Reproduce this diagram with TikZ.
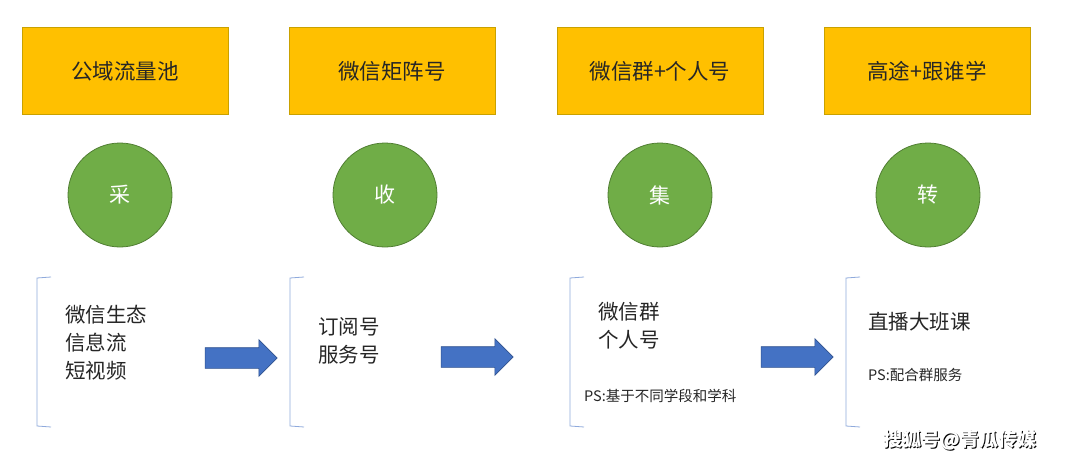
\documentclass[tikz,border=0pt]{standalone}
\usepackage{fontspec}
\newfontfamily\cjk{Noto Sans CJK SC}
\usetikzlibrary{shapes.arrows}
\definecolor{boxy}{HTML}{FFC000}
\definecolor{boxb}{HTML}{C9A100}
\definecolor{cg}{HTML}{70AD47}
\definecolor{cgb}{HTML}{507E32}
\definecolor{ab}{HTML}{4472C4}
\definecolor{abb}{HTML}{2F528F}
\definecolor{brk}{HTML}{8FAADC}
\tikzset{
 topbox/.style={draw=boxb,fill=boxy,minimum width=206pt,minimum height=87pt,font=\cjk\fontsize{21.5}{24}\selectfont,text=black!85,line width=0.8pt},
 circ/.style={circle,draw=cgb,fill=cg,minimum size=104pt,font=\cjk\fontsize{21}{24}\selectfont,text=white,line width=0.8pt},
 bigarrow/.style={single arrow,draw=abb,fill=ab,minimum height=72pt,inner xsep=0pt,inner ysep=10pt,text height=0pt,text depth=0pt,single arrow head extend=8pt,single arrow head indent=0pt,line width=0.6pt},
 body/.style={font=\cjk\fontsize{20.5}{28}\selectfont,text=black!85,align=left,anchor=west,inner sep=0pt},
 small/.style={font=\cjk\fontsize{14.5}{18}\selectfont,text=black!85,anchor=west,inner sep=0pt},
 brack/.style={draw=brk,line width=0.8pt}
}
\begin{document}
\begin{tikzpicture}[x=1pt,y=-1pt]
\useasboundingbox (0,0) rectangle (1080,466);
\fill[white] (0,0) rectangle (1080,466);
\node[topbox] (b1) at (125,71) {公域流量池};
\node[topbox] (b2) at (392,71) {微信矩阵号};
\node[topbox] (b3) at (660,71) {微信群+个人号};
\node[topbox] (b4) at (927,71) {高途+跟谁学};
\node[circ] (c1) at (120,195) {采};
\node[circ] (c2) at (385,195) {收};
\node[circ] (c3) at (660,195) {集};
\node[circ] (c4) at (928,195) {转};
\foreach \x in {37,290,570,846}{
 \draw[brack] (\x+14,277) -- (\x,278) -- (\x,426) -- (\x+14,427);
}
\node[body] (t1) at (65,343) {微信生态\\信息流\\短视频};
\node[body] (t2) at (318,341) {订阅号\\服务号};
\node[body] (t3) at (598,326) {微信群\\个人号};
\node[small] (p3) at (584,396) {PS:基于不同学段和学科};
\node[body] (t4) at (868,322) {直播大班课};
\node[small] (p4) at (868,375) {PS:配合群服务};
\node[bigarrow] (a1) at (236,358) {};
\node[bigarrow] (a2) at (472,357) {};
\node[bigarrow] (a3) at (792,357) {};
\node[font=\cjk\bfseries\fontsize{19}{22}\selectfont,text=black] (wmS) at (961.2,441.2) {搜狐号@青瓜传媒};
\node[font=\cjk\bfseries\fontsize{19}{22}\selectfont,text=white] (wm) at (960,440) {搜狐号@青瓜传媒};
\end{tikzpicture}
\end{document}
